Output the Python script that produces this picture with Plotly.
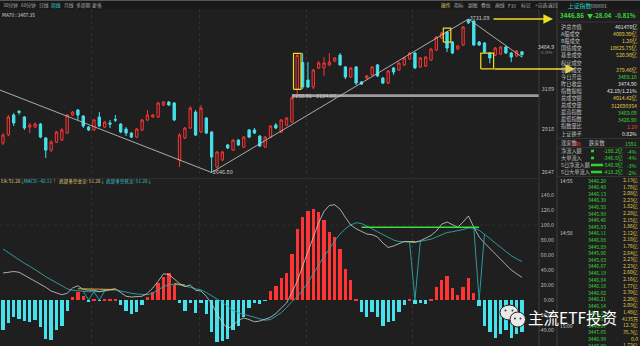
import numpy as np
import plotly.graph_objects as go

# ---------------- data ----------------
opens = [2827, 2880, 3010, 3035, 2997, 2930, 2930, 2950, 2859, 2783,
         2833, 2846, 2891, 3010, 3044, 3003, 2930, 2911, 2997, 2930,
         2957, 2980, 2950, 2917, 2891, 2865, 2911, 2977, 2997, 2997,
         3078, 3099, 3092, 2722, 2859, 2924, 3030, 2898, 2990, 2898,
         2679, 2722, 2815, 2783, 2846, 2802, 2911, 2911, 2872, 2802,
         2865, 2944, 2898, 2943, 2963, 3190, 3385, 3255, 3205, 3344,
         3344, 3367, 3397, 3442, 3352, 3277, 3352, 3241, 3270, 3292,
         3367, 3270, 3233, 3344, 3329, 3367, 3412, 3458, 3352, 3359,
         3404, 3481, 3576, 3624, 3544, 3489, 3520, 3720, 3715, 3544,
         3536, 3458, 3442, 3450, 3505, 3458, 3435, 3468.10]
highs = [2891, 3010, 3023, 3044, 3003, 2956, 2960, 2957, 2865, 2846,
         2904, 2924, 3017, 3037, 3051, 3010, 2937, 2983, 3030, 2970,
         2977, 3010, 2956, 2930, 2897, 2924, 2983, 3044, 3017, 3099,
         3106, 3106, 3099, 2891, 2930, 3071, 3044, 3078, 2997, 2904,
         2777, 2777, 2821, 2852, 2852, 2872, 2917, 2924, 2878, 2872,
         2944, 2956, 2983, 2997, 3134.66, 3452, 3458, 3389, 3337, 3397,
         3427, 3458, 3427, 3458, 3359, 3352, 3359, 3248, 3292, 3359,
         3374, 3277, 3329, 3352, 3389, 3427, 3466, 3466, 3427, 3435,
         3497, 3592, 3624, 3632, 3552, 3521, 3673, 3731.69, 3725, 3552,
         3544, 3466, 3505, 3513, 3513, 3466, 3482, 3469.09]
lows = [2815, 2870, 2937, 3012, 2911, 2891, 2924, 2858, 2734, 2771,
        2827, 2840, 2885, 3003, 2977, 2924, 2904, 2904, 2930, 2924,
        2924, 2963, 2890, 2872, 2858, 2858, 2904, 2970, 2990, 2990,
        3071, 3071, 2970, 2679, 2852, 2917, 2872, 2891, 2884, 2646.80,
        2670, 2715, 2790, 2777, 2808, 2796, 2859, 2885, 2802, 2796,
        2859, 2917, 2891, 2937, 2957, 3152.81, 3190, 3198, 3190, 3337,
        3285, 3359, 3389, 3359, 3262, 3270, 3219, 3219, 3262, 3285,
        3277, 3226, 3226, 3292, 3322, 3359, 3404, 3337, 3344, 3352,
        3397, 3473, 3568, 3466, 3450, 3481, 3513, 3690, 3513, 3513,
        3458, 3380, 3435, 3442, 3450, 3389, 3427, 3426.90]
closes = [2878, 2997, 2957, 3028, 2924, 2943, 2950, 2865, 2783, 2833,
          2898, 2911, 3010, 3030, 3010, 2937, 2911, 2977, 2937, 2963,
          2950, 2976, 2898, 2891, 2865, 2917, 2977, 3010, 3010, 3092,
          3099, 3078, 2977, 2878, 2924, 3057, 2878, 3057, 2891, 2740,
          2771, 2771, 2796, 2846, 2815, 2865, 2865, 2891, 2808, 2865,
          2937, 2924, 2977, 2990, 3128, 3440, 3205, 3205, 3329, 3382,
          3382, 3389, 3420, 3367, 3277, 3344, 3233, 3226, 3285, 3352,
          3285, 3233, 3322, 3314, 3382, 3420, 3458, 3344, 3420, 3427,
          3489, 3584, 3616, 3497, 3458, 3513, 3665, 3700, 3521, 3521,
          3466, 3420, 3497, 3505, 3458, 3427, 3474.90, 3446.86]

macd = [-40, -31, -22, -25, -28, -29, -27, -36, -52, -53,
        -40, -34, -14, 4, 11, 5, -2, 2, -1, 0.5,
        0.4, 2, -7, -14, -18, -16, -7, 4, 11, 23,
        31, 36, 20, -4, -14, -4, -17, -4, -18, -43,
        -56, -54, -52, -40, -34, -22, -11, -4, -5, -1,
        12, 19, 29, 36, 61, 95, 110, 118, 121, 117,
        106, 90, 84, 68, 41, 27, 2, -16, -22, -16,
        -23, -34, -29, -28, -16, -7, 2, -5, -4, -5,
        2, 18, 27, 32, 16, 7, 18, 29, 9, -8,
        -34, -43, -50, -45, -40, -50, -45, -42.11]
dif = [36, 37, 38, 37, 33, 29, 26, 22, 17, 12,
       9, 7, 9, 16, 19, 14, 13, 13, 11, 13,
       14, 15, 10, 5, 4, 4, 5, 9, 16, 25,
       35, 34, 28, 22, 18, 20, 13, 12, 5, -5,
       -18, -30, -38, -34, -27, -24, -26, -29, -28, -25,
       -23, -18, -11, -4, 10, 25, 45, 65, 85, 103,
       118, 126, 127, 121, 110, 100, 95, 91, 88, 87,
       84, 76, 70, 72, 75, 78, 78, 77, 79, 82,
       86, 92, 101, 104, 100, 97, 104, 112, 97, 84,
       76, 69, 61, 54, 47, 40, 35, 30.15]
dea = [68, 63, 58, 53, 49, 45, 41, 36, 31, 27,
       22, 18, 15, 13, 12, 11.5, 11, 11, 11, 12,
       13, 13.5, 12, 10, 9, 8, 7.5, 7, 9, 13,
       18, 20, 21, 20, 19, 17, 15, 13.5, 10, 6,
       2, -3, -9, -14, -17, -19, -21, -24, -26, -27,
       -26, -22, -17, -10, -2, 4, 13, 23, 35, 47,
       58, 68, 79, 88, 95, 100, 103, 102, 99, 95,
       91, 87, 83, 80, 78, 77, 77, 77, 78, 79,
       81, 84, 87, 90, 91, 92, 94, 96, 96, 93,
       88, 82, 76, 70, 64, 59, 55, 51.20]
spike_x = [15, 16, 17, None, 17, 18, 19, None, 76, 77, 78, None, 88, 89, 90]
spike_y = [11.5, 0, 11, None, 11, 0, 12, None, 77, 0, 78, None, 96, 0, 88]
green_x = [67, 89]
green_y = [97, 97]
gold_x = [14, 21, None, 32, 34, None, 76, 77]
gold_y = [15, 14, None, 22, 20, None, 78, 78]

trend_x = [-0.56, 39, None, 39, 87, None, 87, 97]
trend_y = [3183, 2646.80, None, 2646.80, 3731.69, None, 3731.69, 3426.90]
low_pt = (39, 2646.80)
high_pt = (87, 3731.69)
gap_lo, gap_hi, gap_start = 3134.66, 3152.81, 54
boxes = [(55, 55, 3188, 3455), (83, 83, 3544, 3657), (90, 91, 3337, 3458)]
arrow_levels = [3731.69, 3337]

price_ticks = [2647, 2918, 3189]
macd_ticks = [140, 120, 100, 80, 60, 40, 20, 0, -20, -40]
macd_ticktext = ['140.0', '120.0', '100.0', '80.00', '60.00', '40.00', '20.00', '0.00', '-20.00', '-40.00']

panel_labels = ['沪总市值', 'A股成交', 'B股成交', '国债成交', '基金成交', '权证成交', '债券成交', '今日开盘',
                '昨日收盘', '指数振幅', '总成交额', '总成交量', '最高指数', '最低指数', '指数量比', '上证换手']
panel_values = ['461476亿', '4009.99亿', '1.26亿', '10825.75亿', '520.90亿', '', '379.46亿', '3468.10',
                '3474.90', '42.19/1.21%', '4014.42亿', '312690354', '3469.09', '3426.90', '1.20', '0.82%']
panel_kinds = ['w', 'y', 'y', 'y', 'y', 'y', 'y', 'g', 'w', 'w', 'y', 'y', 'g', 'g', 'r', 'w']
flow_labels = ['净流入额', '大单流入', '5日净流入额', '5日大单流入']
flow_values = ['-180.2亿', '-346.5亿', '-540.9亿', '-418.2亿']
flow_pcts = ['-4%', '-4%', '-3%', '-2%']
flow_bar = [3, 3, 12, 11]
tick_times = ['14:55', '', '', '', '', '', '', '', '14:58', '', '', '', '', '', '', '', '', '', '', '', '', '',
              '15:00', '', '', '']
tick_prices = ['3446.20', '3446.48', '3446.13', '3446.39', '3446.58', '3445.99', '3446.46', '3445.93',
               '3446.11', '3446.08', '3445.89', '3445.96', '3445.83', '3446.07', '3446.19', '3446.04',
               '3446.18', '3446.02', '3446.21', '3446.14', '3446.15', '3446.03', '3446.87', '3447.05',
               '3446.90', '3446.90']
tick_vols = ['2.13亿', '1.76亿', '2.08亿', '2.23亿', '1.82亿', '2.28亿', '2.15亿', '1.86亿', '2.12亿', '2.18亿',
             '1.76亿', '2.64亿', '2.23亿', '2.23亿', '2.60亿', '2.16亿', '1.77亿', '2.39亿', '2.20亿', '2.09亿',
             '1.48亿', '4135万', '12.3亿', '35.3亿', '0.0', '1.73亿']
tabs_left = ['30分钟', '60分钟', '日线', '周线', '月线', '多周期', '更多', ')']
tabs_right = ['操作', '指标', '副图', '叠加', '画线', 'F10', '标记', '+自选', '返回']

# ---------------- style / layout constants ----------------
W, H = 640, 346
FONT = 'Noto Sans CJK SC'
BG = '#1f1f1f'
RED = '#ff3434'
CYAN = '#45e2ec'
YEL = '#f0dc22'
VAL_Y = '#e0cc48'
VAL_G = '#3ad83a'
VAL_R = '#ff3a3a'
VAL_W = '#e2e2e2'
LAB = '#c2c2c2'
KIND = {'w': VAL_W, 'y': VAL_Y, 'g': VAL_G, 'r': VAL_R}

X0, DX = 3.0, 5.35          # pixel of first candle, candle spacing
PLOT_R = 557                 # right edge of chart (incl. axis column)
CHART_R = 539                # right edge of drawing area
xr = [(0 - X0) / DX, (PLOT_R - X0) / DX]
x_edge = (CHART_R - X0) / DX


def px(x):
    return x / W


def py(y):
    return 1 - y / H


idx = list(range(len(opens)))
fig = go.Figure()

fig.add_trace(go.Candlestick(
    x=idx, open=opens, high=highs, low=lows, close=closes,
    increasing=dict(line=dict(color=RED, width=1), fillcolor=BG),
    decreasing=dict(line=dict(color=CYAN, width=1), fillcolor=CYAN),
    whiskerwidth=0, xaxis='x', yaxis='y', hoverinfo='skip', showlegend=False))

# gap band
fig.add_trace(go.Scatter(x=[gap_start, x_edge, x_edge, gap_start, gap_start],
                         y=[gap_lo, gap_lo, gap_hi, gap_hi, gap_lo], fill='toself',
                         fillcolor='#9c9c9c', line=dict(width=0), mode='lines',
                         xaxis='x', yaxis='y', hoverinfo='skip', showlegend=False))
# trend lines
fig.add_trace(go.Scatter(x=trend_x, y=trend_y, mode='lines', line=dict(color='#cfcfcf', width=0.8),
                         xaxis='x', yaxis='y', hoverinfo='skip', showlegend=False))
# yellow boxes
for a, b, lo, hi in boxes:
    fig.add_trace(go.Scatter(x=[a - 0.7, b + 0.7, b + 0.7, a - 0.7, a - 0.7], y=[lo, lo, hi, hi, lo],
                             mode='lines', line=dict(color=YEL, width=1.2),
                             xaxis='x', yaxis='y', hoverinfo='skip', showlegend=False))
# price labels
fig.add_trace(go.Scatter(x=[high_pt[0], low_pt[0], gap_start],
                         y=[high_pt[1], low_pt[1], gap_lo],
                         text=[' %.2f' % high_pt[1], ' %.2f' % low_pt[1], '%.2f - %.2f' % (gap_hi, gap_lo)],
                         mode='text', textposition='middle right',
                         textfont=dict(size=5.5, color='#c8c8c8', family=FONT),
                         xaxis='x', yaxis='y', hoverinfo='skip', showlegend=False, cliponaxis=False))

# MACD
fig.add_trace(go.Bar(x=idx, y=macd, marker=dict(color=[RED if v >= 0 else CYAN for v in macd], line=dict(width=0)),
                     width=0.62, xaxis='x2', yaxis='y2', hoverinfo='skip', showlegend=False))
fig.add_trace(go.Scatter(x=idx, y=dea, mode='lines', line=dict(color='#2aa9ac', width=0.9),
                         xaxis='x2', yaxis='y2', hoverinfo='skip', showlegend=False))
fig.add_trace(go.Scatter(x=idx, y=dif, mode='lines', line=dict(color='#cfcfcf', width=0.8),
                         xaxis='x2', yaxis='y2', hoverinfo='skip', showlegend=False))
fig.add_trace(go.Scatter(x=spike_x, y=spike_y, mode='lines', line=dict(color='#2aa9ac', width=0.9),
                         xaxis='x2', yaxis='y2', hoverinfo='skip', showlegend=False))
fig.add_trace(go.Scatter(x=gold_x, y=gold_y, mode='lines', line=dict(color='#d8b040', width=1),
                         xaxis='x2', yaxis='y2', hoverinfo='skip', showlegend=False))
fig.add_trace(go.Scatter(x=green_x, y=green_y, mode='lines', line=dict(color='#3be03b', width=1.3),
                         xaxis='x2', yaxis='y2', hoverinfo='skip', showlegend=False))

grid_x = [16.6, 36.8, 56.8, 76.5]
axis_common = dict(range=xr, showgrid=True, gridcolor='#303030', griddash='dot', gridwidth=1,
                   tickvals=grid_x, showticklabels=False, ticks='', zeroline=False, showline=False)
fig.update_layout(
    width=W, height=H, margin=dict(l=0, r=0, t=0, b=0),
    paper_bgcolor=BG, plot_bgcolor=BG, showlegend=False, hovermode=False,
    boxgap=0.38, bargap=0, font=dict(family=FONT),
    xaxis=dict(domain=[0, px(PLOT_R)], anchor='y', rangeslider=dict(visible=False), **axis_common),
    xaxis2=dict(domain=[0, px(PLOT_R)], anchor='y2', matches='x', **axis_common),
    yaxis=dict(domain=[py(178), py(9)], type='log', range=[3.41738, 3.58162], side='right', anchor='x',
               tickvals=price_ticks, ticktext=[str(v) for v in price_ticks], ticklabelposition='inside',
               tickfont=dict(size=5.5, color='#bdbdbd', family=FONT), showgrid=False, zeroline=False,
               showline=False, ticks=''),
    yaxis2=dict(domain=[0, py(185)], range=[-61.3, 153.3], side='right', anchor='x2',
                tickvals=macd_ticks, ticktext=macd_ticktext, ticklabelposition='inside',
                tickfont=dict(size=5.3, color='#bdbdbd', family=FONT), showgrid=False, zeroline=False,
                showline=False, ticks=''),
)

shapes = []
ann = []


def line(x0, y0, x1, y1, color='#383838', width=1, dash=None):
    d = dict(type='line', xref='paper', yref='paper', x0=px(x0), y0=py(y0), x1=px(x1), y1=py(y1),
             line=dict(color=color, width=width), layer='above')
    if dash:
        d['line']['dash'] = dash
    shapes.append(d)


def rect(x0, y0, x1, y1, fill, lw=0, lc=None, layer='below', kind='rect'):
    shapes.append(dict(type=kind, xref='paper', yref='paper', x0=px(x0), y0=py(y0), x1=px(x1), y1=py(y1),
                       fillcolor=fill, line=dict(width=lw, color=lc or fill), layer=layer))


def T(x, y, s, color=LAB, size=5.2, anchor='left', bold=False):
    if bold:
        s = '<b>' + s + '</b>'
    ann.append(dict(x=px(x), y=py(y), xref='paper', yref='paper', text=s, showarrow=False,
                    xanchor=anchor, yanchor='middle', borderpad=0,
                    font=dict(size=size, color=color, family=FONT)))


# toolbar band and frame
rect(0, 0, W, 9.5, '#191919')
line(0, 0.5, W, 0.5, '#555555')
line(CHART_R, 9.5, CHART_R, H, '#3c3c3c')
line(PLOT_R, 0, PLOT_R, H, '#3c3c3c')
line(0, 178.5, CHART_R, 178.5, '#2e2e2e')
shapes.append(dict(type='line', xref='paper', yref='y2', x0=0, x1=px(CHART_R), y0=100, y1=100,
                   line=dict(color='#2e2e2e', width=1, dash='dot'), layer='below'))

# left tabs
tab_x = [2, 20, 38, 50, 63, 75, 91, 99]
for tx, s in zip(tab_x, tabs_left):
    T(tx, 5, s, '#2fd0d0' if s == '周线' else '#ababab', 4.8)
# right tool buttons
for k, s in enumerate(tabs_right):
    T(440 + 13.4 * k, 5, s, '#e6d36a' if k == 0 else '#ababab', 4.8)
T(1, 14, 'MA70 : 3467.35', '#d6d6d6', 4.8)

# yellow arrows
ann.append(dict(x=px(553), y=np.log10(arrow_levels[0]), xref='paper', yref='y', ax=-61, ay=0,
                axref='pixel', ayref='pixel', showarrow=True, arrowhead=2, arrowsize=1.2,
                arrowwidth=1.6, arrowcolor=YEL, text='', standoff=0))
ann.append(dict(x=px(575), y=np.log10(arrow_levels[1]), xref='paper', yref='y', ax=-82, ay=0,
                axref='pixel', ayref='pixel', showarrow=True, arrowhead=2, arrowsize=1.2,
                arrowwidth=1.6, arrowcolor=YEL, text='', standoff=0))

# current price tag on axis
T(555, 47, '3464.9', '#d8d8d8', 5.3, 'right')
T(554, 52, '-0.29%', '#8a8a8a', 3.8, 'right')

# MACD legend
T(0, 181.5, "EA: 51.20<span style='color:#3ad83a'>↓</span>", '#e0d070', 4.6)
T(23, 181.5, "MACD: -42.11<span style='color:#ff3a3a'>↑</span>", '#40c8d0', 4.6)
T(58, 181.5, "底部多空金叉: 51.20<span style='color:#3ad83a'>↓</span>", '#e0d070', 4.6)
T(105, 181.5, "底部多空死叉: 51.20<span style='color:#3ad83a'>↓</span>", '#40c8d0', 4.6)

# right panel header
T(567, 5, '上证指数', '#2fd0c0', 5.8)
T(590, 5.2, '000001', '#bdbdbd', 4.8)
T(559, 16, '3446.86', VAL_G, 6.2, bold=True)
T(586, 16, '▼-28.04', VAL_G, 6.0, bold=True)
T(637, 16, '-0.81%', VAL_G, 6.0, 'right', bold=True)
line(PLOT_R, 22, W, 22, '#333333')
for k, (lab, val, kind) in enumerate(zip(panel_labels, panel_values, panel_kinds)):
    yy = 27 + 7.1 * k
    T(560, yy, lab, LAB, 5.2)
    if val:
        T(638, yy, val, KIND[kind], 5.2, 'right')
line(PLOT_R, 138.5, W, 138.5, '#333333')
T(560, 143, '涨家数', LAB, 5.2)
T(582, 143, '648', VAL_R, 5.2, 'right')
T(588, 143, '跌家数', LAB, 5.2)
T(638, 143, '1591', VAL_G, 5.2, 'right')
line(PLOT_R, 147.5, W, 147.5, '#333333')
for k, (lab, val, pct, bl) in enumerate(zip(flow_labels, flow_values, flow_pcts, flow_bar)):
    yy = 151 + 7.0 * k
    T(560, yy, lab, LAB, 5.2)
    rect(591, yy - 1.3, 591 + bl, yy + 1.3, '#2fd02f', layer='above')
    T(624, yy, val, VAL_G, 5.2, 'right')
    T(638, yy, pct, VAL_G, 5.2, 'right')
line(PLOT_R, 176.5, W, 176.5, '#333333')
for k, (tt, pr, vo) in enumerate(zip(tick_times, tick_prices, tick_vols)):
    yy = 180 + 6.6 * k
    if tt:
        T(559, yy, tt, '#cfcfcf', 5.0)
    T(607, yy, pr, VAL_G, 5.0, 'right')
    T(639, yy, vo, VAL_Y, 5.0, 'right')

# watermark (WeChat icon + text)
rect(500, 305, 518.5, 320, '#e9e9e9', 1, BG, 'above', 'circle')
rect(510, 312, 525.5, 327, '#e9e9e9', 1, BG, 'above', 'circle')
for ex, ey in [(505.5, 310.5), (512.5, 310.5), (515, 318.5), (520.5, 318.5)]:
    rect(ex - 1, ey - 1, ex + 1, ey + 1, '#3a3a3a', layer='above', kind='circle')
T(527, 316.5, '主流ETF投资', '#ffffff', 15.5)

fig.update_layout(shapes=shapes, annotations=ann)
fig.write_html('out.html')
